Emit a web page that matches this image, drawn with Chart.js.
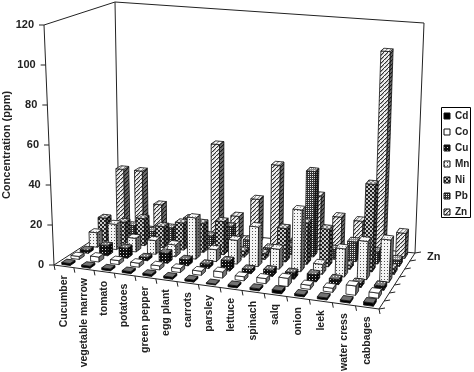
<!DOCTYPE html>
<html>
<head>
<meta charset="utf-8">
<script src="https://cdn.jsdelivr.net/npm/chart.js@4/dist/chart.umd.js"></script>
<style>
body { margin: 0; background: #fff; }
canvas { display: block; }
</style>
</head>
<body>
<canvas id="chart" width="474" height="372"></canvas>
<script>
// data (ppm)
const vegetables = ["Cucumber", "vegetable marrow", "tomato", "potatoes", "green pepper", "egg plant", "carrots", "parsley", "lettuce", "spinach", "salq", "onion", "leek", "water cress", "cabbages"];
const metals = ["Cd", "Co", "Cu", "Mn", "Ni", "Pb", "Zn"];
const cd = [1, 1, 1, 1, 1, 1, 1, 0.5, 1, 1, 1.5, 1, 1, 1, 1.5];
const co = [1.5, 2.5, 2, 2, 2, 2, 2, 3, 2, 2.5, 4, 2, 2, 4.5, 2.5];
const cu = [1.5, 5, 5, 1.5, 5, 3, 2, 5, 2, 3, 3, 3.5, 2.5, 2, 2];
const mn = [7.5, 13, 7, 7, 6, 21, 6, 12, 20, 10, 31, 5, 14, 19, 21];
const ni = [12, 11, 14, 11, 14, 15, 17, 3, 3, 17, 21, 19, 2, 44, 3];
const pb = [5, 6, 4, 7, 13, 5, 11, 5, 2, 4, 44, 5, 10, 6, 3];
const zn = [32, 32, 15, 4, 6, 50, 13, 23, 42, 4, 28, 18, 17, 106, 13];

// box corners on the page: floor and ceiling, front-left, front-right, back-right, back-left
const floorBox = [[54, 265], [379, 309], [415, 253], [119, 223]];
const topBox = [[44, 25], [391, 56], [424, 23], [115, 2]];

function lerp(a, b, t) {
    return a + (b - a) * t;
}

// the right side of the box is closer, so the left categories come out a bit narrower
function warp(u) {
    return u - 0.09 * u * (1 - u);
}

function corner(box, u, v) {
    let fx = lerp(box[0][0], box[1][0], u), fy = lerp(box[0][1], box[1][1], u);
    let bx = lerp(box[3][0], box[2][0], u), by = lerp(box[3][1], box[2][1], u);
    return [lerp(fx, bx, v), lerp(fy, by, v)];
}

// u along the categories, v along the metals, h up the value axis, each 0..1
function project(u, v, h) {
    let a = corner(floorBox, warp(u), v);
    let b = corner(topBox, warp(u), v);
    return [lerp(a[0], b[0], h), lerp(a[1], b[1], h)];
}

function tile(size, paint) {
    let c = document.createElement("canvas");
    c.width = size;
    c.height = size;
    paint(c.getContext("2d"));
    return c.getContext("2d").createPattern(c, "repeat");
}

function dots(bg, fg, size) {
    return tile(size, function (g) {
        g.fillStyle = bg;
        g.fillRect(0, 0, size, size);
        g.fillStyle = fg;
        g.fillRect(0, 0, 1, 1);
    });
}

const fills = [
    "#000",
    "#fff",
    dots("#111", "#ddd", 3),
    dots("#f4f4f4", "#555", 3),
    tile(4, function (g) {
        g.fillStyle = "#ccc";
        g.fillRect(0, 0, 4, 4);
        g.fillStyle = "#222";
        g.fillRect(0, 0, 2, 2);
        g.fillRect(2, 2, 2, 2);
    }),
    dots("#333", "#eee", 2),
    tile(4, function (g) {
        g.fillStyle = "#eee";
        g.fillRect(0, 0, 4, 4);
        g.fillStyle = "#333";
        for (let i = 0; i < 4; i++) g.fillRect(i, 3 - i, 1.4, 1);
    })
];

function poly(ctx, pts, fill, shade) {
    ctx.beginPath();
    pts.forEach(function (p, i) {
        if (i == 0) ctx.moveTo(p[0], p[1]);
        else ctx.lineTo(p[0], p[1]);
    });
    ctx.closePath();
    ctx.fillStyle = fill;
    ctx.fill();
    if (shade) {
        ctx.fillStyle = shade;
        ctx.fill();
    }
    ctx.stroke();
}

// bar controller that draws its bars as boxes inside the projected room
const rowDepth = 0.55;
class Bar3dController extends Chart.BarController {
    draw() {
        const chart = this.chart, ctx = chart.ctx;
        const xs = chart.scales.x, ys = chart.scales.y, zs = chart.scales.z;
        const fill = this.getDataset().backgroundColor;
        const v = zs.getDecimalForPixel(zs.getPixelForValue(this.index));
        const dv = rowDepth / metals.length / 2;
        ctx.save();
        ctx.strokeStyle = "#111";
        ctx.lineWidth = 0.8;
        this._cachedMeta.data.forEach(function (bar) {
            const u0 = xs.getDecimalForPixel(bar.x - bar.width / 2);
            const u1 = xs.getDecimalForPixel(bar.x + bar.width / 2);
            const h = ys.getDecimalForPixel(bar.y);
            const a = project(u0, v - dv, 0), b = project(u1, v - dv, 0), c = project(u1, v + dv, 0);
            const d = project(u0, v - dv, h), e = project(u1, v - dv, h), f = project(u1, v + dv, h), g = project(u0, v + dv, h);
            poly(ctx, [b, c, f, e], fill, "rgba(0,0,0,0.55)");
            poly(ctx, [a, b, e, d], fill);
            poly(ctx, [d, e, f, g], fill, "rgba(255,255,255,0.45)");
        });
        ctx.restore();
    }
}
Bar3dController.id = "bar3d";
Bar3dController.defaults = Chart.BarController.defaults;
Chart.register(Bar3dController);

function seg(ctx, p, q) {
    ctx.beginPath();
    ctx.moveTo(p[0], p[1]);
    ctx.lineTo(q[0], q[1]);
    ctx.stroke();
}

// the room, the sloped axes and their labels
const roomPlugin = {
    id: "room",
    afterLayout(chart) {
        // legend sits lower than the middle of the plot and is narrower than chart.js makes it
        const lg = chart.legend, right = lg.left + lg.width;
        lg.top += 19;
        lg.bottom += 19;
        lg.left = 438;
        lg.width = right - lg.left;
    },
    beforeDatasetsDraw(chart) {
        const ctx = chart.ctx, xs = chart.scales.x, ys = chart.scales.y, zs = chart.scales.z;
        ctx.save();
        ctx.strokeStyle = "#222";
        ctx.lineWidth = 1;
        ctx.fillStyle = "#222";
        ctx.font = "bold 11px 'Liberation Sans'";

        seg(ctx, project(0, 0, 0), project(0, 0, 1));
        seg(ctx, project(0, 0, 1), project(0, 1, 1));
        seg(ctx, project(0, 1, 1), project(1, 1, 1));
        seg(ctx, project(0, 1, 0), project(0, 1, 1));
        seg(ctx, project(1, 1, 0), project(1, 1, 1));
        seg(ctx, project(0, 0, 0), project(1, 0, 0));
        seg(ctx, project(0, 0, 0), project(0, 1, 0));
        seg(ctx, project(1, 0, 0), project(1, 1, 0));
        seg(ctx, project(0, 1, 0), project(1, 1, 0));

        // value axis
        ctx.textAlign = "right";
        ctx.textBaseline = "middle";
        ys.ticks.forEach(function (t) {
            const p = project(0, 0, ys.getDecimalForPixel(ys.getPixelForValue(t.value)));
            seg(ctx, [p[0] - 5, p[1]], p);
            ctx.fillText(t.label, p[0] - 10, p[1]);
        });

        // categories
        for (let i = 0; i <= vegetables.length; i++) {
            const p = project(xs.getDecimalForPixel(xs.getPixelForValue(i - 0.5)), 0, 0);
            seg(ctx, p, [p[0] + 1, p[1] + 5]);
        }
        ctx.font = "bold 10.5px 'Liberation Sans'";
        vegetables.forEach(function (name, i) {
            const p = project(xs.getDecimalForPixel(xs.getPixelForValue(i)), 0, 0);
            ctx.save();
            ctx.translate(p[0], p[1] + 9);
            ctx.rotate(-Math.PI / 2);
            ctx.fillText(name, 0, 0);
            ctx.restore();
        });

        // metals
        for (let i = 0; i <= metals.length; i++) {
            const p = project(1, zs.getDecimalForPixel(zs.getPixelForValue(i - 0.5)), 0);
            seg(ctx, p, [p[0] + 6, p[1] - 1]);
        }
        const last = project(1, 1, 0);
        ctx.font = "bold 11px 'Liberation Sans'";
        ctx.textAlign = "left";
        ctx.fillText(metals[metals.length - 1], last[0] + 12, last[1] + 4);
        ctx.restore();
    },
    afterDraw(chart) {
        const ctx = chart.ctx;
        ctx.save();
        ctx.strokeStyle = "#000";
        ctx.lineWidth = 1;
        ctx.beginPath();
        ctx.rect(441.5, 107.5, 29, 110);
        ctx.stroke();
        ctx.restore();
    }
};

const series = [cd, co, cu, mn, ni, pb, zn];

new Chart(document.getElementById("chart"), {
    type: "bar3d",
    data: {
        labels: vegetables,
        datasets: metals.map(function (name, i) {
            return {
                label: name,
                data: series[i],
                backgroundColor: fills[i],
                borderColor: "#111",
                borderWidth: 1,
                grouped: false,
                barPercentage: 0.42,
                categoryPercentage: 1,
                clip: false
            };
        })
    },
    options: {
        responsive: false,
        animation: false,
        layout: { padding: { top: 25, bottom: 107, right: 3, left: 0 } },
        scales: {
            x: { type: "category", display: false, offset: true },
            z: { type: "category", axis: "x", labels: metals, display: false, offset: true },
            y: {
                type: "linear",
                min: 0,
                max: 120,
                ticks: { stepSize: 20, display: false },
                grid: { display: false },
                border: { display: false },
                title: {
                    display: true,
                    text: "Concentration (ppm)",
                    color: "#222",
                    padding: 0,
                    font: { family: "'Liberation Sans'", size: 11, weight: "bold" }
                }
            }
        },
        plugins: {
            legend: {
                position: "right",
                labels: {
                    boxWidth: 6,
                    boxHeight: 6,
                    padding: 6,
                    color: "#222",
                    font: { family: "'Liberation Sans'", size: 10, weight: "bold" }
                }
            },
            tooltip: { enabled: false }
        }
    },
    plugins: [roomPlugin]
});
</script>
</body>
</html>
